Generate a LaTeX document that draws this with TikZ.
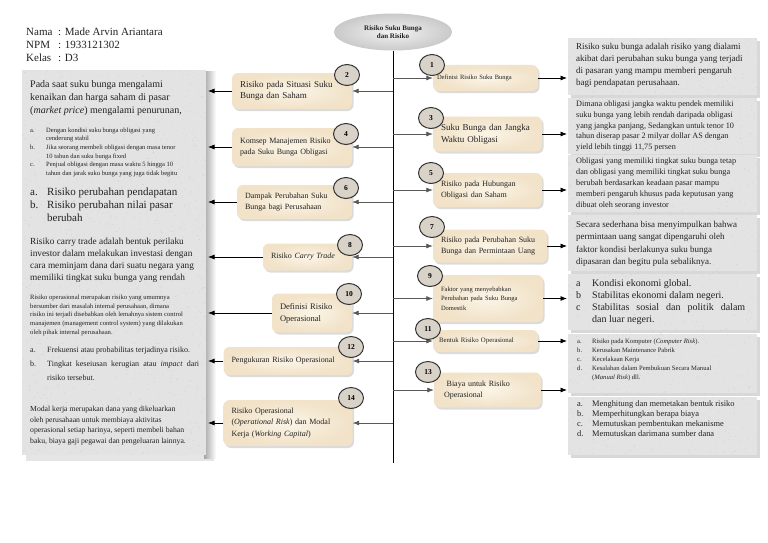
\documentclass[tikz,border=0pt]{standalone}
\usepackage{fontspec}
\setmainfont{Liberation Serif}
\usetikzlibrary{shadows,arrows.meta,shapes.geometric}
\definecolor{panel}{HTML}{E3E3E3}
\definecolor{boxin}{HTML}{FBF4E6}
\definecolor{boxout}{HTML}{F1E2C8}
\definecolor{circfill}{HTML}{D8D2C8}
\definecolor{ink}{HTML}{222222}
\newcommand{\fsz}[2]{\fontsize{#1}{#2}\selectfont}
\newcommand{\lab}[2][16pt]{\makebox[#1][l]{#2}}
\begin{document}
\begin{tikzpicture}[x=1pt,y=-1pt,
  panelbox/.style={fill=panel, draw=none, inner sep=0pt, anchor=north west},
  rsec/.style={panelbox, minimum width=189pt, drop shadow={opacity=0.3, shadow xshift=3pt, shadow yshift=-3pt}},
  topic/.style={rounded corners=6pt, inner color=boxin, outer color=boxout, draw=none, align=left, inner ysep=2pt, text=ink,
    drop shadow={opacity=0.28, shadow xshift=1.5pt, shadow yshift=-2pt}},
  num/.style={ellipse, draw=black!80, line width=1pt, fill=circfill, minimum width=25pt, minimum height=21pt,
    inner sep=0pt, font=\bfseries\fsz{7.5}{8}},
  arr/.style={-{Latex[length=6.5pt,width=5pt]}, line width=0.7pt},
  ptext/.style={anchor=north west, inner sep=0pt, align=left, text=ink},
  speck/.style={fill=gray!55, opacity=0.45},
]
\useasboundingbox (0,0) rectangle (768,543);
\fill[white] (0,0) rectangle (768,543);

% ---------- header ----------
\node[ptext, font=\fsz{11}{13}] (who) at (26,27.5) {\lab[32pt]{Nama}: Made Arvin Ariantara\\\lab[32pt]{NPM}: 1933121302\\\lab[32pt]{Kelas}: D3};

% ---------- left panel ----------
\fill[black, opacity=0.10] (26,455) rectangle (214,461);
\shade[left color=gray!70, right color=white] (204,72) rectangle (216,458);
\node[panelbox, minimum width=184pt, minimum height=385pt] (lp) at (22,70) {};

% ---------- right panel ----------
\node[rsec, minimum height=57pt] (s1) at (568,38) {};
\node[rsec, minimum height=56pt] (s2) at (568,98) {};
\node[rsec, minimum height=57pt] (s3) at (568,155) {};
\node[rsec, minimum height=56pt] (s4) at (568,215) {};
\node[rsec, minimum height=56pt] (s5) at (568,274) {};
\node[rsec, minimum height=59pt] (s6) at (568,334) {};
\node[rsec, minimum height=58pt] (s7) at (568,397) {};

% paper texture
\pgfmathsetseed{42}
\foreach \i in {1,...,1400}{\fill[speck] ({22+184*rnd},{70+385*rnd}) circle (0.45pt);}
\foreach \i in {1,...,1300}{\fill[speck] ({568+189*rnd},{38+417*rnd}) circle (0.45pt);}

\node[ptext, font=\fsz{10}{13}] (l1) at (30,80.5) {Pada saat suku bunga mengalami\\kenaikan dan harga saham di pasar\\(\textit{market price}) mengalami penurunan,};
\node[ptext, font=\fsz{6.5}{8.6}] (l2) at (30,127.5) {\lab{a.}Dengan kondisi suku bunga obligasi yang\\\hspace*{16pt}cenderung stabil\\\lab{b.}Jika seorang membeli obligasi dengan masa tenor\\\hspace*{16pt}10 tahun dan suku bunga fixed\\\lab{c.}Penjual obligasi dengan masa waktu 5 hingga 10\\\hspace*{16pt}tahun dan jarak suku bunga yang juga tidak begitu};
\node[ptext, font=\fsz{11}{13}] (l3) at (30,188) {\lab[17pt]{a.}Risiko perubahan pendapatan\\\lab[17pt]{b.}Risiko perubahan nilai pasar\\\hspace*{17pt}berubah};
\node[ptext, font=\fsz{9.3}{12}] (l4) at (30,238) {Risiko carry trade adalah bentuk perilaku\\investor dalam melakukan investasi dengan\\cara meminjam dana dari suatu negara yang\\memiliki tingkat suku bunga yang rendah};
\node[ptext, font=\fsz{6.6}{8.75}] (l5) at (30,294.5) {Risiko operasional merupakan risiko yang umumnya\\bersumber dari masalah internal perusahaan, dimana\\risiko ini terjadi disebabkan oleh lemahnya sistem control\\manajemen (management control system) yang dilakukan\\oleh pihak internal perusahaan.};
\node[ptext, font=\fsz{8}{14}] (l6) at (30,347) {\lab[17pt]{a.}Frekuensi atau probabilitas terjadinya risiko.\\\lab[17pt]{b.}\makebox[152pt][s]{Tingkat keseiusan kerugian atau \textit{impact} dari}\\\hspace*{17pt}risiko tersebut.};
\node[ptext, font=\fsz{7.7}{10.6}] (l7) at (30,406) {Modal kerja merupakan dana yang dikeluarkan\\oleh perusahaan untuk membiaya aktivitas\\operasional setiap harinya, seperti membeli bahan\\baku, biaya gaji pegawai dan pengeluaran lainnya.};

\node[ptext, font=\fsz{9}{12}] (r1) at (576,43) {Risiko suku bunga adalah risiko yang dialami\\akibat dari perubahan suku bunga yang terjadi\\di pasaran yang mampu memberi pengaruh\\bagi pendapatan perusahaan.};
\node[ptext, font=\fsz{8.2}{10.7}] (r2) at (576,101) {Dimana obligasi jangka waktu pendek memiliki\\suku bunga yang lebih rendah daripada obligasi\\yang jangka panjang, Sedangkan untuk tenor 10\\tahun diserap pasar 2 milyar dollar AS dengan\\yield lebih tinggi 11,75 persen};
\node[ptext, font=\fsz{8.2}{11}] (r3) at (576,158) {Obligasi yang memiliki tingkat suku bunga tetap\\dan obligasi yang memiliki tingkat suku bunga\\berubah berdasarkan keadaan pasar mampu\\memberi pengaruh khusus pada keputusan yang\\dibuat oleh seorang investor};
\node[ptext, font=\fsz{9}{12.4}] (r4) at (576,221) {Secara sederhana bisa menyimpulkan bahwa\\permintaan uang sangat dipengaruhi oleh\\faktor kondisi berlakunya suku bunga\\dipasaran dan begitu pula sebaliknya.};
\node[ptext, font=\fsz{10}{12}] (r5) at (576,279.5) {\lab{a}Kondisi ekonomi global.\\\lab{b}Stabilitas ekonomi dalam negeri.\\\lab{c}\makebox[153pt][s]{Stabilitas sosial dan politik dalam}\\\hspace*{16pt}dan luar negeri.};
\node[ptext, font=\fsz{6.6}{9}] (r6) at (577,338.5) {\lab[15pt]{a.}Risiko pada Komputer (\textit{Computer Risk}).\\\lab[15pt]{b.}Kerusakan Maintenance Pabrik\\\lab[15pt]{c.}Kecelakaan Kerja\\\lab[15pt]{d.}Kesalahan dalam Pembukuan Secara Manual\\\hspace*{15pt}(\textit{Manual Risk}) dll.};
\node[ptext, font=\fsz{8.4}{10}] (r7) at (577,400.5) {\lab[15pt]{a.}Menghitung dan memetakan bentuk risiko\\\lab[15pt]{b.}Memperhitungkan berapa biaya\\\lab[15pt]{c.}Memutuskan pembentukan mekanisme\\\lab[15pt]{d.}Memutuskan darimana sumber dana};

% ---------- centre ----------
\node[ellipse, inner color=gray!10, outer color=gray!42, minimum width=118pt, minimum height=37pt,
  font=\bfseries\fsz{7}{8.5}, align=center, text=ink] (ell) at (393,32) {Risiko Suku Bunga\\dan Risiko};
\coordinate (sbot) at (393,463);
\draw[line width=0.9pt] (ell.south) -- (sbot);
\coordinate (ledge) at (208,0);
\coordinate (redge) at (567,0);

% left topic boxes
\node[topic, text width=104pt, inner xsep=8pt, minimum height=36pt, font=\fsz{9}{11.5}] (b2) at (292,91) {Risiko pada Situasi Suku\\Bunga dan Saham};
\node[topic, text width=104pt, inner xsep=8pt, minimum height=38pt, font=\fsz{8}{11}] (b4) at (292,147) {Komsep Manajemen Risiko\\pada Suku Bunga Obligasi};
\node[topic, text width=99pt, inner xsep=8pt, minimum height=34pt, font=\fsz{8}{11}] (b6) at (294.5,202) {Dampak Perubahan Suku\\Bunga bagi Perusahaan};
\node[topic, text width=73pt, inner xsep=8pt, minimum height=27pt, font=\fsz{8}{10}] (b8) at (307.5,257) {Risiko \textit{Carry Trade}};
\node[topic, text width=64pt, inner xsep=8pt, minimum height=39pt, font=\fsz{8.5}{12}] (b10) at (312,313) {Definisi Risiko\\Operasional};
\node[topic, text width=113pt, inner xsep=8pt, minimum height=28pt, font=\fsz{8}{10}] (b12) at (288,361) {Pengukuran Risiko Operasional};
\node[topic, text width=113pt, inner xsep=8pt, minimum height=46pt, font=\fsz{8}{11.5}] (b14) at (288,423) {Risiko Operasional\\(\textit{Operational Risk}) dan Modal\\Kerja (\textit{Working Capital})};

% right topic boxes
\node[topic, text width=97pt, inner xsep=4pt, minimum height=26pt, font=\fsz{6.5}{8}] (b1) at (485.5,78) {Definisi Risiko Suku Bunga};
\node[topic, text width=93pt, inner xsep=8pt, minimum height=35pt, font=\fsz{9}{12}] (b3) at (487.5,134) {Suku Bunga dan Jangka\\Waktu Obligasi};
\node[topic, text width=93pt, inner xsep=8pt, minimum height=34pt, font=\fsz{8}{11}] (b5) at (487.5,190) {Risiko pada Hubungan\\Obligasi dan Saham};
\node[topic, text width=98pt, inner xsep=8pt, minimum height=33pt, font=\fsz{8}{11}] (b7) at (490,246) {Risiko pada Perubahan Suku\\Bunga dan Permintaan Uang};
\node[topic, text width=94pt, inner xsep=8pt, minimum height=47pt, font=\fsz{6.5}{9.5}] (b9) at (488,298.5) {Faktor yang menyebabkan\\Perubahan pada Suku Bunga\\Domestik};
\node[topic, text width=93pt, inner xsep=6pt, minimum height=22pt, font=\fsz{6.8}{8}] (b11) at (485.5,341) {Bentuk Risiko Operasional};
\node[topic, text width=87pt, inner xsep=10pt, minimum height=35pt, font=\fsz{8}{11}] (b13) at (487.5,390) {\ Biaya untuk Risiko\\Operasional};

% connectors spine -> boxes -> panels
\foreach \b in {b2,b4,b6,b8,b10,b12,b14}{
  \draw[arr, black!65] (\b.east -| sbot) -- (\b.east);
  \draw[arr] (\b.west) -- (\b.west -| ledge);
}
\foreach \b in {b1,b3,b5,b7,b9,b11,b13}{
  \draw[arr, black!65] (\b.west -| sbot) -- (\b.west);
  \draw[arr] (\b.east) -- (\b.east -| redge);
}

% number badges
\node[num] (n1) at (432,65) {1};
\node[num] (n2) at (347,75) {2};
\node[num] (n3) at (431,118) {3};
\node[num] (n4) at (346,134) {4};
\node[num] (n5) at (431,173) {5};
\node[num] (n6) at (346,188) {6};
\node[num] (n7) at (432,227) {7};
\node[num] (n8) at (350,245) {8};
\node[num] (n9) at (430,276) {9};
\node[num] (n10) at (349,294) {10};
\node[num] (n11) at (428,329) {11};
\node[num] (n12) at (351,347) {12};
\node[num] (n13) at (428,372) {13};
\node[num] (n14) at (351,398) {14};
\end{tikzpicture}
\end{document}
